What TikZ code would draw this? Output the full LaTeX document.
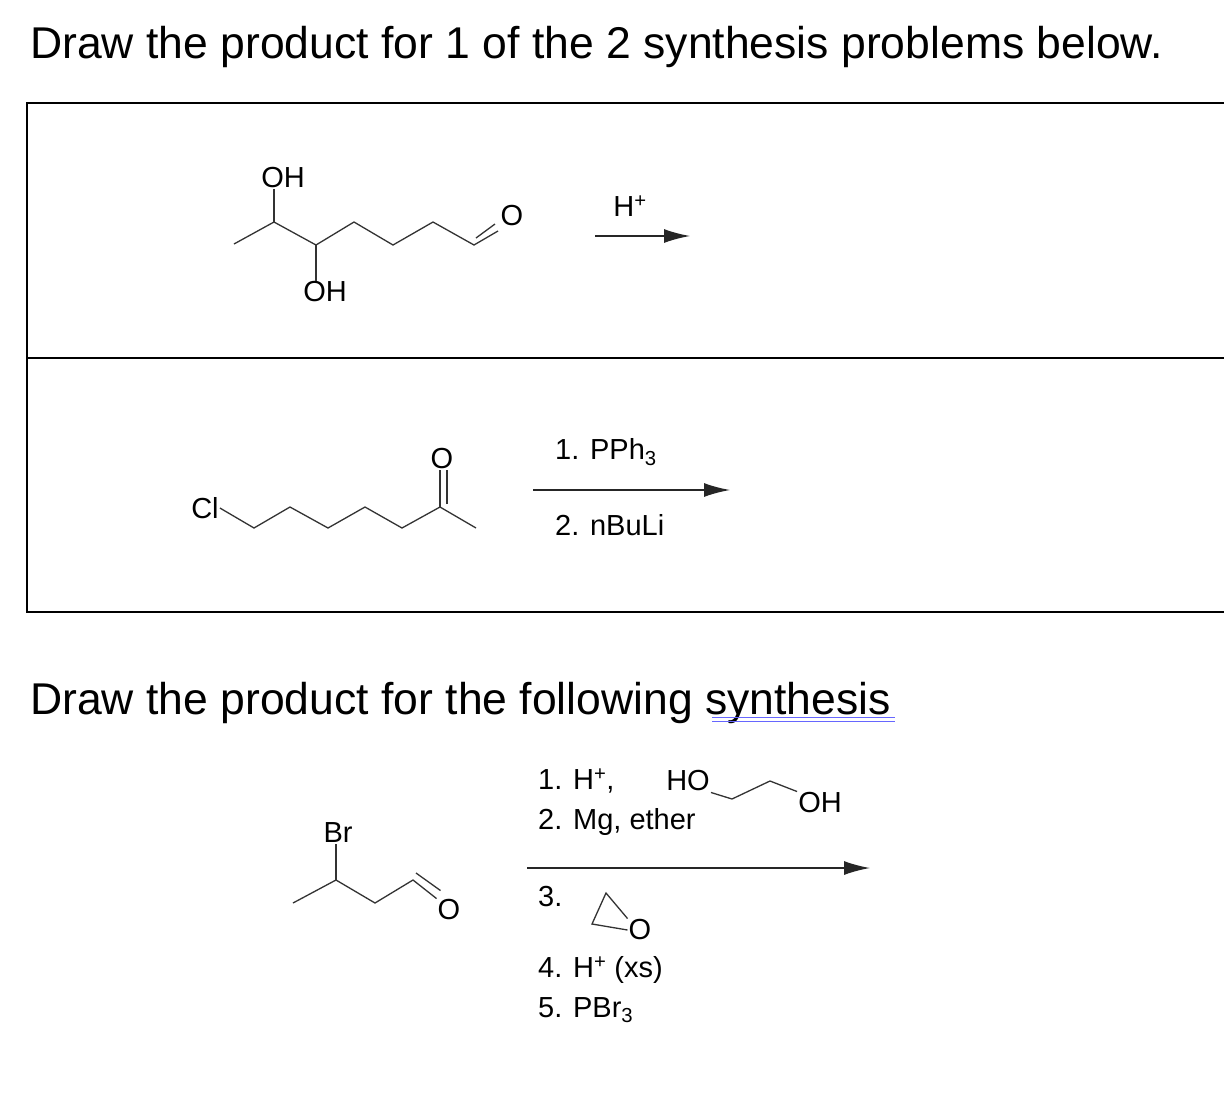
\documentclass[tikz,border=0pt]{standalone}
\usepackage{fontspec}
\setmainfont{Liberation Sans}
\usetikzlibrary{arrows.meta,calc}
\begin{document}
\begin{tikzpicture}[x=1pt,y=-1pt,
  bond/.style={line width=1.3pt,draw=black!80},
  lab/.style={font=\fontsize{29}{32}\selectfont,inner sep=1pt},
  rxn/.style={line width=1.6pt,draw=black!85,-{Latex[length=26pt,width=14pt]}},
  title/.style={font=\fontsize{44.5}{50}\selectfont,anchor=west,inner sep=0pt}]
\useasboundingbox[fill=white] (0,0) rectangle (1224,1096);
\node[title] (t1) at (30,47) {Draw the product for 1 of the 2 synthesis problems below.};
\draw[line width=1.2pt] (27,103) rectangle (1230,612);
\draw[line width=1.2pt] (27,358) -- (1230,358);
% molecule 1
\coordinate (a0) at (234,244); \coordinate (a1) at (274,222); \coordinate (a2) at (316,245);
\coordinate (a3) at (354,222); \coordinate (a4) at (393,245); \coordinate (a5) at (433,222);
\coordinate (a6) at (474,245); \coordinate (a7) at (498,231);
\draw[bond] (a0)--(a1)--(a2)--(a3)--(a4)--(a5)--(a6)--(a7);
\draw[bond] ($(a6)+(2,-7)$)--($(a7)+(-3,-7)$);
\node[lab] (o1) at (283,178) {OH}; \node[lab] (o2) at (325,292) {OH}; \node[lab] (o3) at (512,216) {O};
\draw[bond] (a1)--(o1.south -| a1); \draw[bond] (a2)--(o2.north -| a2);
\coordinate (r1s) at (595,236); \coordinate (r1e) at (690,236);
\draw[rxn] (r1s)--(r1e);
\node[lab] (hp) at (630,206) {H\textsuperscript{+}};
% molecule 2
\node[lab] (cl) at (205,508) {Cl};
\coordinate (b1) at (254,528); \coordinate (b2) at (290,507); \coordinate (b3) at (328,528);
\coordinate (b4) at (365,507); \coordinate (b5) at (402,528); \coordinate (b6) at (440,507);
\coordinate (b7) at (476,528);
\node[lab] (ob) at (442,459) {O};
\draw[bond] (cl.east)--(b1)--(b2)--(b3)--(b4)--(b5)--(b6)--(b7);
\draw[bond] (b6)--(ob.south -| b6);
\draw[bond] ($(b6)+(7,-3)$)--($(ob.south -| b6)+(7,0)$);
\coordinate (r2s) at (533,490); \coordinate (r2e) at (730,490);
\draw[rxn] (r2s)--(r2e);
\node[lab,anchor=west] (pph) at (554,452) {1. PPh\textsubscript{3}};
\node[lab,anchor=west] (bu) at (554,525) {2. nBuLi};
% heading 2
\node[title] (t2) at (30,703) {Draw the product for the following synthesis};
\draw[blue!60,line width=1pt] (712,717)--(895,717);
\draw[blue!60,line width=1pt] (712,721)--(895,721);
% molecule 3
\node[lab] (br) at (338,833) {Br};
\coordinate (c0) at (293,903); \coordinate (c1) at (336,880); \coordinate (c2) at (375,903);
\coordinate (c3) at (413,880);
\node[lab] (oc) at (449,910) {O};
\draw[bond] (c0)--(c1)--(c2)--(c3)--(oc.north west);
\draw[bond] ($(c3)+(3,-7)$)--($(oc.north west)+(4,-8)$);
\draw[bond] (c1)--(br.south -| c1);
\coordinate (r3s) at (527,868); \coordinate (r3e) at (870,868);
\draw[rxn] (r3s)--(r3e);
\node[lab,anchor=west] (s1) at (537,781) {1. H\textsuperscript{+},};
\node[lab] (ho) at (688,781) {HO};
\node[lab] (oh) at (820,803) {OH};
\coordinate (e1) at (732,799); \coordinate (e2) at (770,781);
\draw[bond] (ho.south east)--(e1)--(e2)--(oh.north west);
\node[lab,anchor=west] (s2) at (537,822) {2. Mg, ether};
\node[lab,anchor=west] (s3) at (537,897) {3.};
\coordinate (ep1) at (606,893); \coordinate (ep2) at (592,924);
\node[lab] (oe) at (640,930) {O};
\draw[bond] (oe.west)--(ep2)--(ep1)--(oe.north west);
\node[lab,anchor=west] (s4) at (537,970) {4. H\textsuperscript{+} (xs)};
\node[lab,anchor=west] (s5) at (537,1010) {5. PBr\textsubscript{3}};
\end{tikzpicture}
\end{document}
